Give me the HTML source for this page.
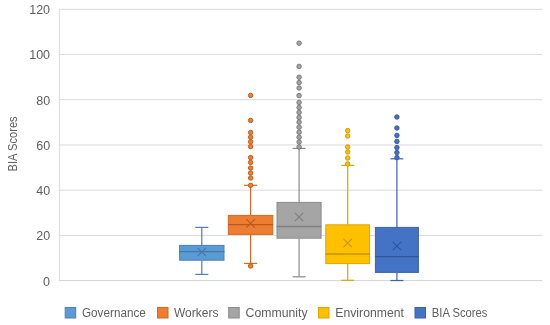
<!DOCTYPE html>
<html><head><meta charset="utf-8"><title>BIA Scores</title>
<style>
html,body{margin:0;padding:0;background:#fff;}
body{width:550px;height:325px;overflow:hidden;}
svg{display:block;}
text{font-family:"Liberation Sans",Arial,sans-serif;fill:#5e5e5e;}
</style></head><body>
<svg width="550" height="325" viewBox="0 0 550 325">
<rect x="0" y="0" width="550" height="325" fill="#ffffff"/>

<line x1="59" y1="9.3" x2="542.5" y2="9.3" stroke="#d9d9d9" stroke-width="1"/>
<line x1="59" y1="54.4" x2="542.5" y2="54.4" stroke="#d9d9d9" stroke-width="1"/>
<line x1="59" y1="99.7" x2="542.5" y2="99.7" stroke="#d9d9d9" stroke-width="1"/>
<line x1="59" y1="145" x2="542.5" y2="145" stroke="#d9d9d9" stroke-width="1"/>
<line x1="59" y1="190.2" x2="542.5" y2="190.2" stroke="#d9d9d9" stroke-width="1"/>
<line x1="59" y1="235.4" x2="542.5" y2="235.4" stroke="#d9d9d9" stroke-width="1"/>
<line x1="59" y1="280.6" x2="542.5" y2="280.6" stroke="#d4d4d4" stroke-width="1"/>
<line x1="59.3" y1="9.3" x2="59.3" y2="280.6" stroke="#d9d9d9" stroke-width="1"/>
<text x="50.1" y="14.3" font-size="12.2" text-anchor="end" textLength="20.9" lengthAdjust="spacingAndGlyphs">120</text>
<text x="50.1" y="59.4" font-size="12.2" text-anchor="end" textLength="20.9" lengthAdjust="spacingAndGlyphs">100</text>
<text x="50.1" y="104.7" font-size="12.2" text-anchor="end" textLength="13.9" lengthAdjust="spacingAndGlyphs">80</text>
<text x="50.1" y="150.0" font-size="12.2" text-anchor="end" textLength="13.9" lengthAdjust="spacingAndGlyphs">60</text>
<text x="50.1" y="195.2" font-size="12.2" text-anchor="end" textLength="13.9" lengthAdjust="spacingAndGlyphs">40</text>
<text x="50.1" y="240.4" font-size="12.2" text-anchor="end" textLength="13.9" lengthAdjust="spacingAndGlyphs">20</text>
<text x="50.1" y="285.6" font-size="12.2" text-anchor="end" textLength="7.0" lengthAdjust="spacingAndGlyphs">0</text>
<text transform="translate(16.5,171.5) rotate(-90)" font-size="12.2" textLength="55.2" lengthAdjust="spacingAndGlyphs">BIA Scores</text>
<g stroke="#4a80b8" stroke-width="1.2" fill="none">
<line x1="201.8" y1="227.4" x2="201.8" y2="245"/>
<line x1="201.8" y1="260.6" x2="201.8" y2="274.4"/>
<line x1="195.3" y1="227.4" x2="208.3" y2="227.4"/>
<line x1="195.3" y1="274.4" x2="208.3" y2="274.4"/>
</g>
<rect x="179.6" y="245.4" width="44.4" height="14.8" fill="#5b9bd5" stroke="#4a80b8" stroke-width="1"/>
<line x1="179.2" y1="251.6" x2="224.4" y2="251.6" stroke="#4377ab" stroke-width="1.3"/>
<path d="M197.6 247.8L206.0 256.2M197.6 256.2L206.0 247.8" stroke="#4377ab" stroke-width="1.1" fill="none"/>
<g stroke="#d4691f" stroke-width="1.2" fill="none">
<line x1="250.6" y1="185.3" x2="250.6" y2="215"/>
<line x1="250.6" y1="234.8" x2="250.6" y2="263.4"/>
<line x1="244.1" y1="185.3" x2="257.1" y2="185.3"/>
<line x1="244.1" y1="263.4" x2="257.1" y2="263.4"/>
</g>
<rect x="228.4" y="215.4" width="44.4" height="19.0" fill="#ed7d31" stroke="#d4691f" stroke-width="1"/>
<line x1="228" y1="224.6" x2="273.2" y2="224.6" stroke="#b85a1c" stroke-width="1.3"/>
<path d="M246.4 219.2L254.8 227.6M246.4 227.6L254.8 219.2" stroke="#b85a1c" stroke-width="1.1" fill="none"/>
<circle cx="250.6" cy="95.4" r="2.25" fill="#ed7d31" stroke="#b85a1c" stroke-width="0.9"/>
<circle cx="250.6" cy="120.4" r="2.25" fill="#ed7d31" stroke="#b85a1c" stroke-width="0.9"/>
<circle cx="250.6" cy="132.5" r="2.25" fill="#ed7d31" stroke="#b85a1c" stroke-width="0.9"/>
<circle cx="250.6" cy="137.2" r="2.25" fill="#ed7d31" stroke="#b85a1c" stroke-width="0.9"/>
<circle cx="250.6" cy="141.8" r="2.25" fill="#ed7d31" stroke="#b85a1c" stroke-width="0.9"/>
<circle cx="250.6" cy="146.6" r="2.25" fill="#ed7d31" stroke="#b85a1c" stroke-width="0.9"/>
<circle cx="250.6" cy="157.6" r="2.25" fill="#ed7d31" stroke="#b85a1c" stroke-width="0.9"/>
<circle cx="250.6" cy="162.4" r="2.25" fill="#ed7d31" stroke="#b85a1c" stroke-width="0.9"/>
<circle cx="250.6" cy="168" r="2.25" fill="#ed7d31" stroke="#b85a1c" stroke-width="0.9"/>
<circle cx="250.6" cy="173" r="2.25" fill="#ed7d31" stroke="#b85a1c" stroke-width="0.9"/>
<circle cx="250.6" cy="178" r="2.25" fill="#ed7d31" stroke="#b85a1c" stroke-width="0.9"/>
<circle cx="250.6" cy="185.3" r="2.25" fill="#ed7d31" stroke="#b85a1c" stroke-width="0.9"/>
<circle cx="250.6" cy="266" r="2.25" fill="#ed7d31" stroke="#b85a1c" stroke-width="0.9"/>
<g stroke="#8a8a8a" stroke-width="1.2" fill="none">
<line x1="299.1" y1="148.4" x2="299.1" y2="202"/>
<line x1="299.1" y1="238.6" x2="299.1" y2="276.8"/>
<line x1="292.6" y1="148.4" x2="305.6" y2="148.4"/>
<line x1="292.6" y1="276.8" x2="305.6" y2="276.8"/>
</g>
<rect x="277.0" y="202.4" width="44.1" height="35.8" fill="#a5a5a5" stroke="#8a8a8a" stroke-width="1"/>
<line x1="276.6" y1="226.5" x2="321.5" y2="226.5" stroke="#7f7f7f" stroke-width="1.3"/>
<path d="M294.9 212.8L303.2 221.2M294.9 221.2L303.2 212.8" stroke="#7f7f7f" stroke-width="1.1" fill="none"/>
<circle cx="299.1" cy="43.2" r="2.25" fill="#a5a5a5" stroke="#707070" stroke-width="0.9"/>
<circle cx="299.1" cy="66.4" r="2.25" fill="#a5a5a5" stroke="#707070" stroke-width="0.9"/>
<circle cx="299.1" cy="77.2" r="2.25" fill="#a5a5a5" stroke="#707070" stroke-width="0.9"/>
<circle cx="299.1" cy="82.6" r="2.25" fill="#a5a5a5" stroke="#707070" stroke-width="0.9"/>
<circle cx="299.1" cy="88" r="2.25" fill="#a5a5a5" stroke="#707070" stroke-width="0.9"/>
<circle cx="299.1" cy="95.6" r="2.25" fill="#a5a5a5" stroke="#707070" stroke-width="0.9"/>
<circle cx="299.1" cy="102.4" r="2.25" fill="#a5a5a5" stroke="#707070" stroke-width="0.9"/>
<circle cx="299.1" cy="107.4" r="2.25" fill="#a5a5a5" stroke="#707070" stroke-width="0.9"/>
<circle cx="299.1" cy="112.4" r="2.25" fill="#a5a5a5" stroke="#707070" stroke-width="0.9"/>
<circle cx="299.1" cy="117.4" r="2.25" fill="#a5a5a5" stroke="#707070" stroke-width="0.9"/>
<circle cx="299.1" cy="122.2" r="2.25" fill="#a5a5a5" stroke="#707070" stroke-width="0.9"/>
<circle cx="299.1" cy="127.2" r="2.25" fill="#a5a5a5" stroke="#707070" stroke-width="0.9"/>
<circle cx="299.1" cy="132.2" r="2.25" fill="#a5a5a5" stroke="#707070" stroke-width="0.9"/>
<circle cx="299.1" cy="137.2" r="2.25" fill="#a5a5a5" stroke="#707070" stroke-width="0.9"/>
<circle cx="299.1" cy="142" r="2.25" fill="#a5a5a5" stroke="#707070" stroke-width="0.9"/>
<circle cx="299.1" cy="147" r="2.25" fill="#a5a5a5" stroke="#707070" stroke-width="0.9"/>
<g stroke="#dca600" stroke-width="1.2" fill="none">
<line x1="347.7" y1="165.4" x2="347.7" y2="224.4"/>
<line x1="347.7" y1="264" x2="347.7" y2="280.3"/>
<line x1="341.2" y1="165.4" x2="354.2" y2="165.4"/>
<line x1="341.2" y1="280.3" x2="354.2" y2="280.3"/>
</g>
<rect x="325.8" y="224.8" width="43.8" height="38.8" fill="#ffc000" stroke="#dca600" stroke-width="1"/>
<line x1="325.4" y1="254" x2="370" y2="254" stroke="#c59400" stroke-width="1.3"/>
<path d="M343.5 238.8L351.9 247.2M343.5 247.2L351.9 238.8" stroke="#c59400" stroke-width="1.1" fill="none"/>
<circle cx="347.7" cy="130.6" r="2.25" fill="#ffc000" stroke="#c59400" stroke-width="0.9"/>
<circle cx="347.7" cy="136" r="2.25" fill="#ffc000" stroke="#c59400" stroke-width="0.9"/>
<circle cx="347.7" cy="147" r="2.25" fill="#ffc000" stroke="#c59400" stroke-width="0.9"/>
<circle cx="347.7" cy="152" r="2.25" fill="#ffc000" stroke="#c59400" stroke-width="0.9"/>
<circle cx="347.7" cy="158" r="2.25" fill="#ffc000" stroke="#c59400" stroke-width="0.9"/>
<circle cx="347.7" cy="164" r="2.25" fill="#ffc000" stroke="#c59400" stroke-width="0.9"/>
<g stroke="#3a62ac" stroke-width="1.2" fill="none">
<line x1="396.9" y1="158.8" x2="396.9" y2="227"/>
<line x1="396.9" y1="272.8" x2="396.9" y2="280.5"/>
<line x1="390.4" y1="158.8" x2="403.4" y2="158.8"/>
<line x1="390.4" y1="280.5" x2="403.4" y2="280.5"/>
</g>
<rect x="375.4" y="227.4" width="43.0" height="45.0" fill="#4472c4" stroke="#3a62ac" stroke-width="1"/>
<line x1="375" y1="256.6" x2="418.8" y2="256.6" stroke="#31549a" stroke-width="1.3"/>
<path d="M392.7 241.8L401.1 250.2M392.7 250.2L401.1 241.8" stroke="#31549a" stroke-width="1.1" fill="none"/>
<circle cx="396.9" cy="117" r="2.25" fill="#4472c4" stroke="#31549a" stroke-width="0.9"/>
<circle cx="396.9" cy="128" r="2.25" fill="#4472c4" stroke="#31549a" stroke-width="0.9"/>
<circle cx="396.9" cy="135.4" r="2.25" fill="#4472c4" stroke="#31549a" stroke-width="0.9"/>
<circle cx="396.9" cy="141.4" r="2.25" fill="#4472c4" stroke="#31549a" stroke-width="0.9"/>
<circle cx="396.9" cy="147.6" r="2.25" fill="#4472c4" stroke="#31549a" stroke-width="0.9"/>
<circle cx="396.9" cy="152.6" r="2.25" fill="#4472c4" stroke="#31549a" stroke-width="0.9"/>
<circle cx="396.9" cy="157.6" r="2.25" fill="#4472c4" stroke="#31549a" stroke-width="0.9"/>
<rect x="65.2" y="307.5" width="10.5" height="10.5" fill="#5b9bd5" stroke="#4a80b8" stroke-width="1"/>
<text x="82" y="317" font-size="12" textLength="63.8" lengthAdjust="spacingAndGlyphs">Governance</text>
<rect x="157.5" y="307.5" width="10.5" height="10.5" fill="#ed7d31" stroke="#d4691f" stroke-width="1"/>
<text x="174" y="317" font-size="12" textLength="44.4" lengthAdjust="spacingAndGlyphs">Workers</text>
<rect x="228.7" y="307.5" width="10.5" height="10.5" fill="#a5a5a5" stroke="#8a8a8a" stroke-width="1"/>
<text x="245.6" y="317" font-size="12" textLength="62" lengthAdjust="spacingAndGlyphs">Community</text>
<rect x="318.5" y="307.5" width="10.5" height="10.5" fill="#ffc000" stroke="#dca600" stroke-width="1"/>
<text x="335.3" y="317" font-size="12" textLength="68.6" lengthAdjust="spacingAndGlyphs">Environment</text>
<rect x="415.0" y="307.5" width="10.5" height="10.5" fill="#4472c4" stroke="#3a62ac" stroke-width="1"/>
<text x="431.8" y="317" font-size="12" textLength="55.6" lengthAdjust="spacingAndGlyphs">BIA Scores</text>
</svg>
</body></html>
